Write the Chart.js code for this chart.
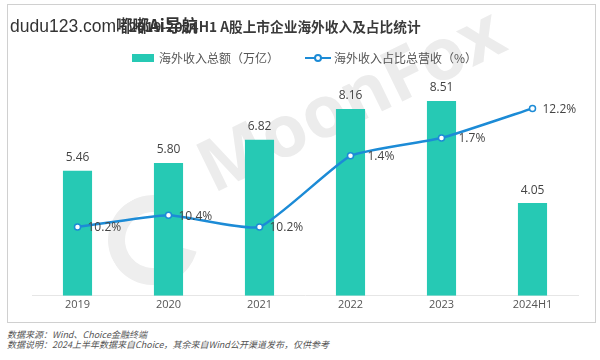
<!DOCTYPE html>
<html>
<head>
<meta charset="utf-8">
<script src="https://cdn.jsdelivr.net/npm/chart.js@4"></script>
<style>
  body { margin: 0; width: 600px; height: 360px; background: #fff; position: relative; overflow: hidden;
         font-family: "Noto Sans CJK SC", "Noto Sans", sans-serif; }
  #frame { position: absolute; left: 7px; top: 4px; width: 587px; height: 317px; border: 1px solid #d0d0d0; }
  #mark { position: absolute; left: 212px; top: 130px; font: bold 72px "Open Sans", sans-serif; color: #ececec;
          line-height: 72px; transform: rotate(-26deg); transform-origin: 0 62px; white-space: nowrap; }
  #ring { position: absolute; left: 108px; top: 195px; width: 56px; height: 56px; border-radius: 50%;
          border: 17px solid #eeeeee; border-right-color: transparent; transform: rotate(-30deg); }
  #wrap { position: absolute; left: 7px; top: 4px; width: 588px; height: 318px; }
  #title { position: absolute; left: 129px; top: 16px; font-size: 13.7px; font-weight: bold; color: #3a3a3a; white-space: nowrap; }
  #site { position: absolute; left: 10px; top: 13px; color: #333; white-space: nowrap; }
  #site .en { font-family: "Liberation Sans", sans-serif; font-size: 17.5px; }
  #site .cn { font-weight: bold; font-size: 16.5px; }
  .note { position: absolute; left: 7px; font-size: 9px; font-style: italic; color: #555; white-space: nowrap; }
</style>
</head>
<body>
<div id="ring"></div>
<div id="mark">MoonFox</div>
<div id="frame"></div>
<div id="wrap"><canvas id="c"></canvas></div>
<div id="title">2019-2024H1 A股上市企业海外收入及占比统计</div>
<div id="site"><span class="en">dudu123.com</span><span class="cn">嘟嘟Ai导航</span></div>
<div class="note" style="top: 328px;">数据来源：Wind、Choice金融终端</div>
<div class="note" style="top: 338px;">数据说明：2024上半年数据来自Choice，其余来自Wind公开渠道发布，仅供参考</div>
<script>
// 🔹 데이터
const years = ['2019', '2020', '2021', '2022', '2023', '2024H1'];
const overseasRevenue = [5.46, 5.80, 6.82, 8.16, 8.51, 4.05];
const overseasShare = [10.2, 10.4, 10.2, 11.4, 11.7, 12.2];
const shareLabels = ['10.2%', '10.4%', '10.2%', '1.4%', '1.7%', '12.2%'];
const barName = '海外收入总额（万亿）';
const lineName = '海外收入占比总营收（%）';

const TEAL = '#26c9b4';
const BLUE = '#1c8bd6';

// 🔹 범례 아이콘
function makeIcon(kind) {
  const cv = document.createElement('canvas');
  cv.width = 26; cv.height = 10;
  const g = cv.getContext('2d');
  if (kind === 'bar') {
    g.fillStyle = TEAL;
    g.fillRect(2, 1, 22, 8);
  } else {
    g.strokeStyle = BLUE; g.lineWidth = 2;
    g.beginPath(); g.moveTo(0, 5); g.lineTo(26, 5); g.stroke();
    g.fillStyle = '#fff';
    g.beginPath(); g.arc(13, 5, 3, 0, Math.PI * 2); g.fill(); g.stroke();
  }
  return cv;
}

// 🔹 값 라벨
const valueLabels = {
  id: 'valueLabels',
  afterDatasetsDraw(chart) {
    const ctx = chart.ctx;
    ctx.save();
    ctx.font = '12px "Open Sans", "Noto Sans", sans-serif';
    ctx.fillStyle = '#444';
    ctx.textBaseline = 'middle';
    chart.getDatasetMeta(0).data.forEach((el, i) => {
      ctx.textAlign = 'center';
      ctx.fillText(overseasRevenue[i].toFixed(2), el.x, el.y - 13);
    });
    chart.getDatasetMeta(1).data.forEach((el, i) => {
      ctx.textAlign = 'left';
      const dx = shareLabels[i].length === 4 ? 17 : 10;
      ctx.fillText(shareLabels[i], el.x + dx, el.y + 1);
    });
    ctx.restore();
  }
};

new Chart(document.getElementById('c'), {
  data: {
    labels: years,
    datasets: [
      {
        type: 'bar',
        label: barName,
        data: overseasRevenue,
        yAxisID: 'y',
        backgroundColor: TEAL,
        barPercentage: 0.32,
        categoryPercentage: 1,
        order: 1
      },
      {
        type: 'line',
        label: lineName,
        data: overseasShare,
        yAxisID: 'y2',
        borderColor: BLUE,
        borderWidth: 2.5,
        tension: 0.15,
        pointRadius: 3,
        pointBackgroundColor: '#fff',
        pointBorderColor: BLUE,
        pointBorderWidth: 1.5,
        order: 0
      }
    ]
  },
  options: {
    responsive: true,
    maintainAspectRatio: false,
    animation: false,
    layout: { padding: { left: 25, right: 17, top: 19, bottom: 9 } },
    plugins: {
      legend: {
        position: 'top',
        labels: {
          usePointStyle: true,
          pointStyleWidth: 20,
          boxHeight: 10,
          padding: 29,
          color: '#555',
          font: { size: 12, family: '"Noto Sans CJK SC", sans-serif' },
          generateLabels(chart) {
            return chart.data.datasets.map((ds, i) => ({
              text: ds.label,
              datasetIndex: i,
              pointStyle: makeIcon(ds.type),
              fontColor: '#555',
              hidden: false,
              lineWidth: 0
            }));
          }
        }
      },
      tooltip: { enabled: false }
    },
    scales: {
      x: {
        grid: { display: false, drawTicks: false },
        border: { display: true, color: '#e6e6e6' },
        ticks: { color: '#555', font: { size: 11, family: '"Open Sans", sans-serif' }, padding: 2 }
      },
      y: { display: false, min: 0, max: 9.69 },
      y2: { display: false, min: 9.04, max: 12.78 }
    }
  },
  plugins: [valueLabels]
});
</script>
</body>
</html>
